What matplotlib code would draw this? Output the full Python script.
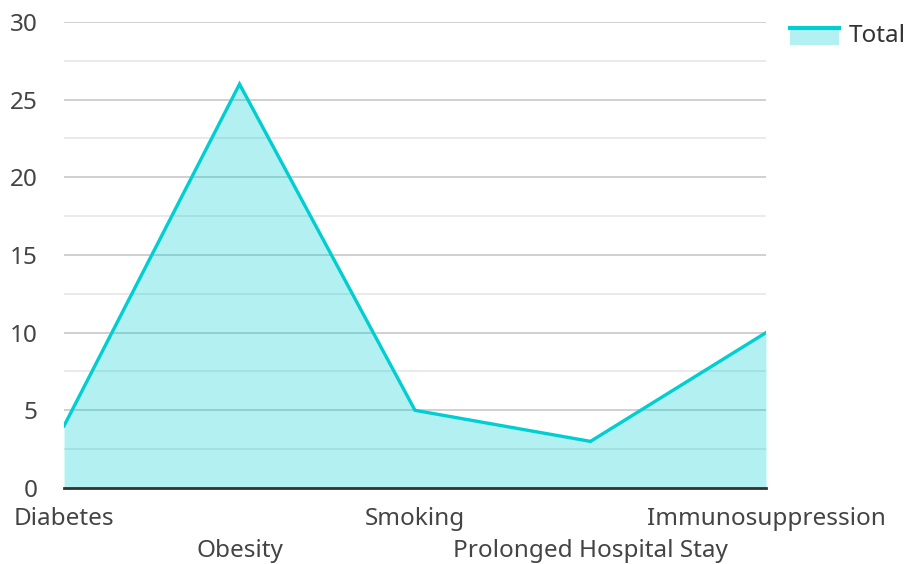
import matplotlib
matplotlib.use("Agg")
import matplotlib.pyplot as plt
from matplotlib.patches import Rectangle
from matplotlib.lines import Line2D
from matplotlib.legend_handler import HandlerBase

plt.rcParams['font.family'] = ['Noto Sans', 'DejaVu Sans']

categories = ["Diabetes", "Obesity", "Smoking", "Prolonged Hospital Stay", "Immunosuppression"]
totals = [4, 26, 5, 3, 10]
series_name = "Total"

line_color = "#00CED1"
fill_alpha = 0.3


class AreaHandler(HandlerBase):
    # line on top of a pale block, like the area it stands for
    def create_artists(self, legend, orig_handle, xdescent, ydescent,
                       width, height, fontsize, trans):
        top = height * 0.85
        patch = Rectangle((-xdescent, -ydescent - height * 0.15), width, top + height * 0.15,
                          facecolor=line_color, alpha=fill_alpha, edgecolor="none",
                          transform=trans)
        ln = Line2D([-xdescent, -xdescent + width], [top, top],
                    color=line_color, lw=3, transform=trans)
        return [patch, ln]


fig = plt.figure(figsize=(9.07, 5.64), dpi=100)
ax = fig.add_axes([0.0706, 0.1348, 0.7739, 0.8262])

x = list(range(len(categories)))
ax.fill_between(x, 0, totals, color=line_color, alpha=fill_alpha, lw=0, zorder=3)
line, = ax.plot(x, totals, color=line_color, lw=2.4, zorder=4, solid_joinstyle="miter")

ax.set_xlim(0, len(categories) - 1)
ax.set_ylim(0, 30)
ax.set_yticks(range(0, 31, 5))
ax.set_yticks([2.5 + 5 * i for i in range(6)], minor=True)
ax.grid(True, which="major", axis="y", color="#c8c8c8", lw=1.2, zorder=1)
ax.grid(True, which="minor", axis="y", color="#e6e6e6", lw=1.2, zorder=1)
ax.set_axisbelow(True)

# category names in two staggered rows so the long ones don't collide
ax.set_xticks(x)
ax.set_xticklabels([])
for i, name in enumerate(categories):
    dy = -22.5 if i % 2 == 0 else -45.5
    ax.annotate(name, xy=(i, 0), xycoords=("data", "axes fraction"),
                xytext=(0, dy), textcoords="offset points",
                ha="center", va="center", fontsize=17.5, color="#444444")

ax.tick_params(axis="both", which="both", length=0, labelsize=17.5, colors="#444444")
ax.tick_params(axis="y", pad=19)

for side in ["top", "right", "left"]:
    ax.spines[side].set_visible(False)
ax.spines["bottom"].set_color("#333333")
ax.spines["bottom"].set_linewidth(2)
ax.spines["bottom"].set_zorder(5)

fig.legend([line], [series_name], handler_map={line: AreaHandler()},
           loc="upper left", bbox_to_anchor=(0.871, 0.957), frameon=False,
           borderpad=0, borderaxespad=0,
           fontsize=17.5, handlelength=2.0, handletextpad=0.4,
           labelcolor="#333333")

fig.savefig("out.png", dpi=100)
